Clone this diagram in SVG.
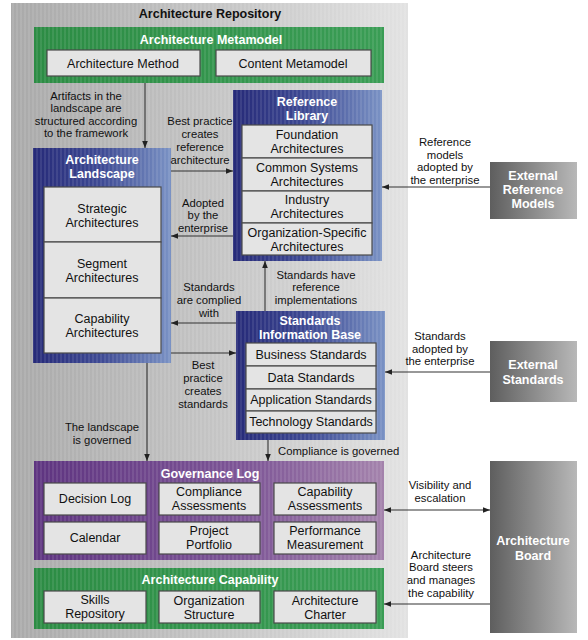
<svg xmlns="http://www.w3.org/2000/svg" width="588" height="640" viewBox="0 0 588 640">
<defs>
<linearGradient id="gRepo" x1="0" y1="0" x2="1" y2="0">
<stop offset="0" stop-color="#a9a9a9"/><stop offset="0.6" stop-color="#c9c9c9"/><stop offset="1" stop-color="#e2e2e2"/>
</linearGradient>
<linearGradient id="gBlue" x1="0" y1="0" x2="1" y2="0">
<stop offset="0" stop-color="#262a78"/><stop offset="0.5" stop-color="#3e4a94"/><stop offset="1" stop-color="#7a92c4"/>
</linearGradient>
<linearGradient id="gPurple" x1="0" y1="0" x2="1" y2="0">
<stop offset="0" stop-color="#5e3480"/><stop offset="0.6" stop-color="#7d5596"/><stop offset="1" stop-color="#a483ac"/>
</linearGradient>
<linearGradient id="gGreen" x1="0" y1="0" x2="1" y2="0">
<stop offset="0" stop-color="#2c8c44"/><stop offset="1" stop-color="#3a9d55"/>
</linearGradient>
<linearGradient id="gGray" x1="0" y1="0" x2="1" y2="0">
<stop offset="0" stop-color="#5e5e5e"/><stop offset="1" stop-color="#b8b8b8"/>
</linearGradient>
<pattern id="stripes" width="4" height="10" patternUnits="userSpaceOnUse">
<rect x="0" y="0" width="2" height="10" fill="#ffffff" fill-opacity="0.09"/>
</pattern>
<marker id="ah" viewBox="0 0 10 10" refX="10" refY="5" markerWidth="7" markerHeight="7" orient="auto-start-reverse" markerUnits="userSpaceOnUse">
<path d="M0,1 L10,5 L0,9 z" fill="#222"/>
</marker>
<style>
.t{font-family:"Liberation Sans",Arial,sans-serif;font-size:12.5px;fill:#111;text-anchor:middle}
.lbl{font-family:"Liberation Sans",Arial,sans-serif;font-size:11.3px;fill:#111;text-anchor:middle}
.h{font-family:"Liberation Sans",Arial,sans-serif;font-size:12.5px;font-weight:bold;fill:#fff;text-anchor:middle}
.inner{fill:#e4e4e4;stroke:#4a4a4a;stroke-width:1.2}
.c{stroke:#333;stroke-width:1.1;fill:none}
</style>
</defs>

<g id="repository">
<rect x="11" y="3" width="397" height="635" fill="url(#gRepo)"/>
<rect x="11" y="3" width="397" height="635" fill="url(#stripes)"/>
<text x="210" y="18" class="t" style="font-weight:bold">Architecture Repository</text>
</g>

<g id="metamodel">
<rect x="34" y="27" width="350" height="56" fill="url(#gGreen)"/>
<rect x="34" y="27" width="350" height="56" fill="url(#stripes)"/>
<text x="211" y="44" class="h">Architecture Metamodel</text>
<rect x="47" y="50" width="153" height="26" class="inner"/>
<text x="123" y="68" class="t">Architecture Method</text>
<rect x="216" y="50" width="155" height="26" class="inner"/>
<text x="293" y="68" class="t">Content Metamodel</text>
</g>

<g id="landscape">
<rect x="33" y="148" width="138" height="215" fill="url(#gBlue)"/>
<rect x="33" y="148" width="138" height="215" fill="url(#stripes)"/>
<text x="102" y="164" class="h">Architecture</text>
<text x="102" y="178" class="h">Landscape</text>
<rect x="44" y="187" width="117" height="55" class="inner"/>
<text x="102" y="213" class="t">Strategic</text>
<text x="102" y="227" class="t">Architectures</text>
<rect x="44" y="242" width="117" height="56" class="inner"/>
<text x="102" y="268" class="t">Segment</text>
<text x="102" y="282" class="t">Architectures</text>
<rect x="44" y="298" width="117" height="55" class="inner"/>
<text x="102" y="323" class="t">Capability</text>
<text x="102" y="337" class="t">Architectures</text>
</g>

<g id="reference-library">
<rect x="233" y="90" width="149" height="171" fill="url(#gBlue)"/>
<rect x="233" y="90" width="149" height="171" fill="url(#stripes)"/>
<text x="307" y="106" class="h">Reference</text>
<text x="307" y="120" class="h">Library</text>
<rect x="242" y="125" width="130" height="33" class="inner"/>
<text x="307" y="139" class="t">Foundation</text>
<text x="307" y="153" class="t">Architectures</text>
<rect x="242" y="158" width="130" height="33" class="inner"/>
<text x="307" y="172" class="t">Common Systems</text>
<text x="307" y="186" class="t">Architectures</text>
<rect x="242" y="191" width="130" height="32" class="inner"/>
<text x="307" y="204" class="t">Industry</text>
<text x="307" y="218" class="t">Architectures</text>
<rect x="242" y="223" width="130" height="32" class="inner"/>
<text x="307" y="237" class="t">Organization-Specific</text>
<text x="307" y="251" class="t">Architectures</text>
</g>

<g id="standards-information-base">
<rect x="236" y="311" width="149" height="129" fill="url(#gBlue)"/>
<rect x="236" y="311" width="149" height="129" fill="url(#stripes)"/>
<text x="310" y="325" class="h">Standards</text>
<text x="310" y="339" class="h">Information Base</text>
<rect x="246" y="343" width="130" height="23" class="inner"/>
<text x="311" y="359" class="t">Business Standards</text>
<rect x="246" y="366" width="130" height="23" class="inner"/>
<text x="311" y="382" class="t">Data Standards</text>
<rect x="246" y="389" width="130" height="22" class="inner"/>
<text x="311" y="404" class="t">Application Standards</text>
<rect x="246" y="411" width="130" height="22" class="inner"/>
<text x="311" y="426" class="t">Technology Standards</text>
</g>

<g id="governance-log">
<rect x="34" y="461" width="350" height="99" fill="url(#gPurple)"/>
<rect x="34" y="461" width="350" height="99" fill="url(#stripes)"/>
<text x="210" y="478" class="h">Governance Log</text>
<rect x="44" y="483" width="102" height="32" class="inner"/>
<text x="95" y="503" class="t">Decision Log</text>
<rect x="159" y="483" width="101" height="32" class="inner"/>
<text x="209" y="496" class="t">Compliance</text>
<text x="209" y="510" class="t">Assessments</text>
<rect x="274" y="483" width="102" height="32" class="inner"/>
<text x="325" y="496" class="t">Capability</text>
<text x="325" y="510" class="t">Assessments</text>
<rect x="44" y="522" width="102" height="32" class="inner"/>
<text x="95" y="542" class="t">Calendar</text>
<rect x="159" y="522" width="101" height="32" class="inner"/>
<text x="209" y="535" class="t">Project</text>
<text x="209" y="549" class="t">Portfolio</text>
<rect x="274" y="522" width="102" height="32" class="inner"/>
<text x="325" y="535" class="t">Performance</text>
<text x="325" y="549" class="t">Measurement</text>
</g>

<g id="architecture-capability">
<rect x="34" y="568" width="350" height="61" fill="url(#gGreen)"/>
<rect x="34" y="568" width="350" height="61" fill="url(#stripes)"/>
<text x="210" y="584" class="h">Architecture Capability</text>
<rect x="44" y="591" width="102" height="32" class="inner"/>
<text x="95" y="604" class="t">Skills</text>
<text x="95" y="618" class="t">Repository</text>
<rect x="159" y="591" width="101" height="32" class="inner"/>
<text x="209" y="605" class="t">Organization</text>
<text x="209" y="619" class="t">Structure</text>
<rect x="274" y="591" width="102" height="32" class="inner"/>
<text x="325" y="605" class="t">Architecture</text>
<text x="325" y="619" class="t">Charter</text>
</g>

<g id="external-reference-models">
<rect x="490" y="162" width="87" height="57" fill="url(#gGray)"/>
<text x="533" y="180" class="h">External</text>
<text x="533" y="194" class="h">Reference</text>
<text x="533" y="208" class="h">Models</text>
</g>

<g id="external-standards">
<rect x="490" y="341" width="87" height="61" fill="url(#gGray)"/>
<text x="533" y="369" class="h">External</text>
<text x="533" y="384" class="h">Standards</text>
</g>

<g id="architecture-board">
<rect x="490" y="461" width="87" height="172" fill="url(#gGray)"/>
<text x="533" y="545" class="h">Architecture</text>
<text x="533" y="560" class="h">Board</text>
</g>

<g id="connectors">
<line x1="145" y1="83" x2="145" y2="148" class="c" marker-end="url(#ah)"/>
<line x1="171" y1="171" x2="233" y2="171" class="c" marker-end="url(#ah)"/>
<line x1="233" y1="236" x2="171" y2="236" class="c" marker-end="url(#ah)"/>
<line x1="236" y1="323" x2="171" y2="323" class="c" marker-end="url(#ah)"/>
<line x1="171" y1="353" x2="236" y2="353" class="c" marker-end="url(#ah)"/>
<line x1="265" y1="311" x2="265" y2="261" class="c" marker-end="url(#ah)"/>
<line x1="147" y1="363" x2="147" y2="461" class="c" marker-end="url(#ah)"/>
<line x1="268" y1="440" x2="268" y2="461" class="c" marker-end="url(#ah)"/>
<line x1="490" y1="187" x2="382" y2="187" class="c" marker-end="url(#ah)"/>
<line x1="490" y1="372" x2="385" y2="372" class="c" marker-end="url(#ah)"/>
<line x1="384" y1="510" x2="490" y2="510" class="c" marker-start="url(#ah)" marker-end="url(#ah)"/>
<line x1="490" y1="604" x2="384" y2="604" class="c" marker-end="url(#ah)"/>
</g>

<g id="labels">
<text class="lbl" x="86" y="100">Artifacts in the</text>
<text class="lbl" x="86" y="112">landscape are</text>
<text class="lbl" x="86" y="125">structured according</text>
<text class="lbl" x="86" y="137">to the framework</text>

<text class="lbl" x="200" y="125">Best practice</text>
<text class="lbl" x="200" y="138">creates</text>
<text class="lbl" x="200" y="151">reference</text>
<text class="lbl" x="200" y="164">architecture</text>

<text class="lbl" x="203" y="207">Adopted</text>
<text class="lbl" x="203" y="219">by the</text>
<text class="lbl" x="203" y="232">enterprise</text>

<text class="lbl" x="209" y="291">Standards</text>
<text class="lbl" x="209" y="304">are complied</text>
<text class="lbl" x="209" y="317">with</text>

<text class="lbl" x="203" y="369">Best</text>
<text class="lbl" x="203" y="382">practice</text>
<text class="lbl" x="203" y="395">creates</text>
<text class="lbl" x="203" y="408">standards</text>

<text class="lbl" x="316" y="279">Standards have</text>
<text class="lbl" x="316" y="291">reference</text>
<text class="lbl" x="316" y="304">implementations</text>

<text class="lbl" x="102" y="431">The landscape</text>
<text class="lbl" x="102" y="444">is governed</text>

<text class="lbl" x="278" y="455" style="text-anchor:start">Compliance is governed</text>

<text class="lbl" x="445" y="146">Reference</text>
<text class="lbl" x="445" y="159">models</text>
<text class="lbl" x="445" y="171">adopted by</text>
<text class="lbl" x="445" y="184">the enterprise</text>

<text class="lbl" x="440" y="340">Standards</text>
<text class="lbl" x="440" y="353">adopted by</text>
<text class="lbl" x="440" y="365">the enterprise</text>

<text class="lbl" x="440" y="489">Visibility and</text>
<text class="lbl" x="440" y="502">escalation</text>

<text class="lbl" x="441" y="559">Architecture</text>
<text class="lbl" x="441" y="571">Board steers</text>
<text class="lbl" x="441" y="584">and manages</text>
<text class="lbl" x="441" y="597">the capability</text>
</g>
</svg>
